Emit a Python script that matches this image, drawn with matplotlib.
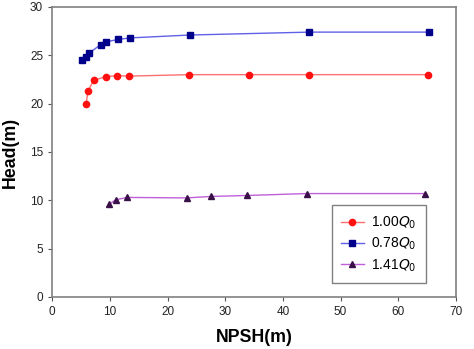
import matplotlib.pyplot as plt

plt.rcParams['font.family'] = ['Liberation Sans', 'DejaVu Sans']

# NPSH (m) vs head (m) for three flow rates
npsh_100 = [5.9, 6.2, 7.2, 9.3, 11.3, 13.4, 23.7, 34.1, 44.5, 65.1]
head_100 = [20.0, 21.3, 22.4, 22.8, 22.9, 22.85, 23.0, 23.0, 23.0, 23.0]

npsh_078 = [5.25, 5.9, 6.35, 8.4, 9.4, 11.5, 13.5, 23.9, 44.6, 65.3]
head_078 = [24.5, 24.8, 25.2, 26.1, 26.4, 26.65, 26.8, 27.1, 27.4, 27.4]

npsh_141 = [9.9, 11.0, 13.0, 23.3, 27.5, 33.7, 44.1, 64.7]
head_141 = [9.6, 10.05, 10.3, 10.25, 10.4, 10.5, 10.7, 10.7]

labels = [r'1.00$Q_0$', r'0.78$Q_0$', r'1.41$Q_0$']

fig = plt.figure(figsize=(4.74, 3.49), dpi=100)
ax = fig.add_axes([0.110, 0.149, 0.852, 0.831])

ax.plot(npsh_100, head_100, color='#ff7070', lw=1.0, marker='o', ms=4.5,
        mfc='#ff1010', mec='#ff1010', label=labels[0])
ax.plot(npsh_078, head_078, color='#6060e8', lw=1.0, marker='s', ms=4,
        mfc='#00008b', mec='#00008b', label=labels[1])
ax.plot(npsh_141, head_141, color='#c060d8', lw=1.0, marker='^', ms=4.5,
        mfc='#3a1048', mec='#3a1048', label=labels[2])

ax.set_xlim(0, 70)
ax.set_ylim(0, 30)
ax.set_xticks(range(0, 71, 10))
ax.set_yticks(range(0, 31, 5))
ax.tick_params(direction='out', length=3, width=0.8, color='#555555',
               labelsize=8.5, labelcolor='#222222')
for s in ax.spines.values():
    s.set_color('#808080')
    s.set_linewidth(1.2)

ax.set_xlabel('NPSH(m)', fontsize=12.8, fontweight='bold', labelpad=8)
ax.set_ylabel('Head(m)', fontsize=12.8, fontweight='bold', labelpad=8)

leg = ax.legend(loc='lower right', bbox_to_anchor=(0.925, 0.047),
                borderaxespad=0, fontsize=10,
                fancybox=False, edgecolor='#808080', framealpha=1,
                handlelength=1.6, handletextpad=0.5, borderpad=0.7,
                labelspacing=0.35)
leg.get_frame().set_linewidth(1.0)

fig.savefig('out.png', dpi=100)
